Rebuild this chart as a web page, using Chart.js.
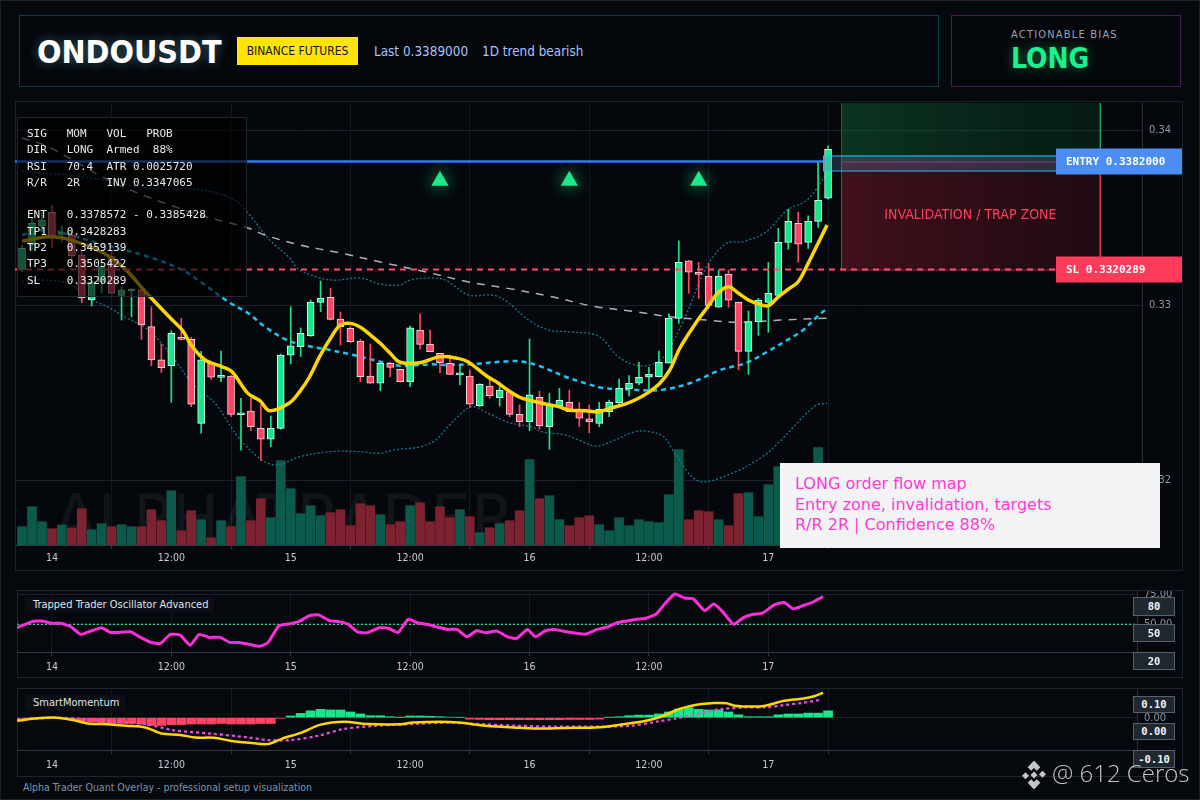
<!DOCTYPE html>
<html>
<head>
<meta charset="utf-8">
<script src="https://cdn.jsdelivr.net/npm/chart.js@4.4.1/dist/chart.umd.min.js"></script>
<style>
  html, body { margin:0; padding:0; background:#05080c; }
  #page { position:relative; width:1200px; height:800px; overflow:hidden; background:#05080c;
          font-family:'DejaVu Sans Condensed','DejaVu Sans',sans-serif; }
  .a { position:absolute; box-sizing:border-box; }
  canvas { position:absolute; display:block; }
  .lvl { position:absolute; box-sizing:border-box; left:1133px; width:42px; background:#1f2731; border:1px solid #56616c;
         color:#f2f4f6; font:bold 10.5px 'DejaVu Sans Mono',monospace; text-align:center; }
  .ptitle { position:absolute; box-sizing:border-box; left:25px; height:16px; background:#0b0f15; color:#dfe4ea;
            font-size:11px; line-height:16px; padding-left:8px; padding-right:6px; }
</style>
</head>
<body>
<div id="page">
  <div class="a" style="left:0;top:0;width:1200px;height:800px;border:1px solid #1a2229;"></div>

  <!-- header -->
  <div class="a" style="left:19px;top:15px;width:920px;height:72px;border:1px solid #0f3a46;background:#04070b;"></div>
  <div class="a" style="left:37px;top:36px;font-size:32px;line-height:32px;font-weight:bold;color:#ffffff;text-shadow:0 0 12px rgba(110,190,230,0.45);">ONDOUSDT</div>
  <div class="a" style="left:237px;top:37px;width:121px;height:28px;background:#ffe500;color:#15150a;font-size:12px;line-height:28px;text-align:center;">BINANCE FUTURES</div>
  <div class="a" style="left:374px;top:44.5px;font-size:13.4px;line-height:13.4px;color:#a8c2ff;white-space:pre;">Last 0.3389000<span style="margin-left:14px">1D trend bearish</span></div>
  <div class="a" style="left:951px;top:15px;width:230px;height:72px;border:1px solid #4c1b52;background:#04070b;"></div>
  <div class="a" style="left:1011px;top:28.7px;font-size:11px;line-height:11px;letter-spacing:1.2px;color:#9aa3ad;">ACTIONABLE BIAS</div>
  <div class="a" style="left:1011px;top:45px;font-size:28px;line-height:28px;font-weight:bold;color:#19f08e;text-shadow:0 0 12px rgba(25,240,142,0.45);">LONG</div>

  <!-- main chart -->
  <div class="a" style="left:15px;top:101px;width:1168px;height:470px;border:1px solid #17212b;background:#04070b;"></div>
  <canvas id="mainChart" width="1167" height="467" style="left:15px;top:103px;width:1167px;height:467px;"></canvas>

  <div class="a" style="left:17px;top:117px;width:230px;height:180px;background:rgba(0,0,0,0.62);border:1px solid #1c2731;">
<pre style="margin:0;padding:8px 0 0 9px;font:11px 'DejaVu Sans Mono',monospace;line-height:16.3px;color:#e8e8e8;">SIG   MOM   VOL   PROB
DIR   LONG  Armed  88%
RSI   70.4  ATR 0.0025720
R/R   2R    INV 0.3347065

ENT   0.3378572 - 0.3385428
TP1   0.3428283
TP2   0.3459139
TP3   0.3505422
SL    0.3320289</pre>
  </div>

  <div class="a" style="left:780px;top:463px;width:380px;height:85px;background:#f3f3f5;color:#ff3ad8;font-family:'DejaVu Sans',sans-serif;font-size:16px;line-height:20.5px;padding:11px 0 0 15px;">
    LONG order flow map<br>Entry zone, invalidation, targets<br>R/R 2R | Confidence 88%
  </div>

  <!-- oscillator -->
  <div class="a" style="left:17px;top:590px;width:1166px;height:88px;border:1px solid #1b2631;"></div>
  <canvas id="oscChart" width="1165" height="86" style="left:17px;top:591px;width:1165px;height:86px;"></canvas>
  <div class="ptitle" style="top:597px;">Trapped Trader Oscillator Advanced</div>
  <div class="lvl" style="top:597px;height:19px;line-height:17px;">80</div>
  <div class="lvl" style="top:624px;height:18px;line-height:16px;">50</div>
  <div class="lvl" style="top:652px;height:18px;line-height:16px;">20</div>

  <!-- momentum -->
  <div class="a" style="left:17px;top:688px;width:1166px;height:89px;border:1px solid #1b2631;"></div>
  <canvas id="momChart" width="1165" height="87" style="left:17px;top:689px;width:1165px;height:87px;"></canvas>
  <div class="ptitle" style="top:695px;">SmartMomentum</div>
  <div class="lvl" style="top:696px;height:17px;line-height:15px;">0.10</div>
  <div class="lvl" style="top:723px;height:17px;line-height:15px;">0.00</div>
  <div class="lvl" style="top:750px;height:18px;line-height:16px;">-0.10</div>

  <div class="a" style="left:23px;top:781px;font-size:10.5px;line-height:12px;color:#7e95a8;">Alpha Trader Quant Overlay - professional setup visualization</div>

  <svg class="a" style="left:1020px;top:761px;" width="28" height="28" viewBox="0 0 28 28">
    <g fill="#c6c6c6" transform="rotate(45 14 14)">
      <rect x="11.5" y="11.5" width="5" height="5"/>
      <rect x="4" y="4" width="5" height="9"/><rect x="4" y="4" width="9" height="5"/>
      <rect x="19" y="15" width="5" height="9"/><rect x="15" y="19" width="9" height="5"/>
      <rect x="17" y="5" width="5" height="5"/><rect x="6" y="18" width="5" height="5"/>
    </g>
  </svg>
  <div class="a" style="left:1052px;top:761px;font-family:'Open Sans',sans-serif;font-weight:300;font-size:24px;line-height:24px;color:#c4c4c4;white-space:pre;">@ 612 Ceros</div>
</div>

<script>
// ---------------- DATA ----------------
// x values are hours counted from day 14, 00:00 (one candle per hour)
const FIRST_HOUR = -3;
const timeTicks  = [0, 12, 24, 36, 48, 60, 72];
const timeLabels = ['14', '12:00', '15', '12:00', '16', '12:00', '17'];
const priceTicks = [0.32, 0.33, 0.34];

const opens = [0.33204,0.33343,0.33451,0.33530,0.33403,0.33400,0.33286,0.33029,0.33133,0.33276,
  0.33055,0.33080,0.33086,0.32876,0.32686,0.32653,0.32815,0.32804,0.32324,0.32667,
  0.32586,0.32594,0.32373,0.32394,0.32295,0.32233,0.32295,0.32713,0.32762,0.32825,
  0.33015,0.33044,0.32920,0.32867,0.32794,0.32594,0.32553,0.32667,0.32633,0.32562,
  0.32857,0.32775,0.32724,0.32667,0.32601,0.32594,0.32425,0.32537,0.32470,0.32505,
  0.32375,0.32333,0.32473,0.32305,0.32425,0.32444,0.32400,0.32349,0.32324,0.32390,
  0.32442,0.32522,0.32553,0.32587,0.32590,0.32667,0.32924,0.33253,0.33187,0.33164,
  0.32987,0.33175,0.33015,0.32735,0.32905,0.33015,0.33055,0.33358,0.33467,0.33358,
  0.33478,0.33610];
const highs = [0.33343,0.33497,0.33531,0.33571,0.33451,0.33429,0.33314,0.33166,0.33257,0.33303,
  0.33105,0.33095,0.33091,0.32990,0.32777,0.32853,0.32924,0.32815,0.32735,0.32670,
  0.32737,0.32596,0.32467,0.32467,0.32429,0.32366,0.32720,0.32990,0.32869,0.33029,
  0.33137,0.33095,0.32960,0.32876,0.32804,0.32777,0.32667,0.32674,0.32634,0.32880,
  0.32949,0.32857,0.32724,0.32714,0.32657,0.32629,0.32550,0.32575,0.32537,0.32510,
  0.32429,0.32806,0.32507,0.32495,0.32524,0.32514,0.32444,0.32429,0.32444,0.32457,
  0.32577,0.32596,0.32673,0.32644,0.32737,0.32949,0.33366,0.33255,0.33244,0.33238,
  0.33200,0.33200,0.33018,0.32966,0.33038,0.33244,0.33438,0.33547,0.33531,0.33509,
  0.33815,0.33909];
const lows = [0.33189,0.33314,0.33417,0.33326,0.33360,0.33246,0.33013,0.32994,0.33069,0.33057,
  0.32914,0.32933,0.32804,0.32653,0.32615,0.32444,0.32800,0.32419,0.32267,0.32575,
  0.32562,0.32362,0.32171,0.32282,0.32110,0.32190,0.32290,0.32663,0.32705,0.32820,
  0.32962,0.32915,0.32771,0.32785,0.32562,0.32553,0.32510,0.32590,0.32560,0.32533,
  0.32747,0.32733,0.32613,0.32604,0.32543,0.32415,0.32420,0.32467,0.32423,0.32362,
  0.32305,0.32282,0.32291,0.32175,0.32420,0.32390,0.32305,0.32270,0.32305,0.32362,
  0.32429,0.32480,0.32543,0.32514,0.32587,0.32667,0.32895,0.33067,0.33038,0.32998,
  0.32987,0.32987,0.32629,0.32604,0.32827,0.32844,0.33055,0.33318,0.33244,0.33324,
  0.33444,0.33605];
const closes = [0.33324,0.33467,0.33486,0.33390,0.33409,0.33280,0.33040,0.33133,0.33219,0.33067,
  0.33086,0.33084,0.32886,0.32686,0.32642,0.32838,0.32804,0.32434,0.32686,0.32587,
  0.32591,0.32375,0.32378,0.32305,0.32233,0.32295,0.32714,0.32766,0.32838,0.33015,
  0.33038,0.32918,0.32876,0.32790,0.32590,0.32553,0.32667,0.32644,0.32562,0.32869,
  0.32775,0.32733,0.32670,0.32604,0.32607,0.32433,0.32547,0.32482,0.32514,0.32375,
  0.32333,0.32486,0.32310,0.32434,0.32455,0.32390,0.32353,0.32333,0.32404,0.32444,
  0.32524,0.32553,0.32587,0.32604,0.32673,0.32924,0.33244,0.33187,0.33175,0.32998,
  0.33164,0.33027,0.32735,0.32905,0.33027,0.33067,0.33358,0.33478,0.33347,0.33478,
  0.33598,0.33890];
const volumes = [183,383,233,163,200,170,363,153,213,183,
  203,183,183,353,243,543,143,343,253,73,
  243,183,683,243,463,273,843,563,313,393,
  293,323,353,193,413,393,303,203,233,393,
  423,233,383,273,353,283,123,173,213,243,
  343,853,463,493,253,193,273,293,203,143,
  273,193,253,233,223,503,953,253,343,333,
  253,193,513,523,283,603,783,550,650,600,
  973,700];

const fastMaHours = [-3,-0.4,1.3,4.6,7.1,9.7,12.1,13.1,14.1,15.4,17.1,18.1,19.7,20.9,21.9,23.9,24.9,25.9,26.9,28.0,
  29.0,30.0,31.0,32.0,33.0,34.0,35.0,37.0,39.0,40.8,41.8,42.8,43.8,44.8,45.8,47.0,48.2,49.6,50.9,51.9,
  53.6,54.9,56.3,57.6,58.6,59.8,61.1,62.1,63.1,64.8,65.8,66.9,68.0,69.0,70.0,71.0,72.0,73.0,74.0,75.0,
  76.0,77.0,77.9];
const fastMaValues = [0.33365,0.33390,0.33381,0.33314,0.33219,0.33057,0.32914,0.32857,0.32762,0.32686,
  0.32647,0.32619,0.32495,0.32453,0.32396,0.32442,0.32505,0.32590,0.32705,0.32810,
  0.32886,0.32895,0.32873,0.32829,0.32781,0.32724,0.32673,0.32670,0.32705,0.32695,
  0.32676,0.32633,0.32590,0.32556,0.32514,0.32473,0.32453,0.32434,0.32419,0.32400,
  0.32396,0.32390,0.32413,0.32434,0.32457,0.32495,0.32553,0.32629,0.32753,0.32905,
  0.32981,0.33067,0.33105,0.33067,0.33029,0.33006,0.32996,0.33047,0.33090,0.33133,
  0.33238,0.33353,0.33457];

const midMaHours = [-3,-0.4,4.6,9.7,13.1,15.1,17.7,19.7,21.4,23.6,25.6,27.6,30.3,32.3,35.0,38.0,39.5,42.5,46.2,47.6,
  49.2,51.6,53.6,55.3,57.6,61.1,64.1,67.2,69.8,72.2,73.9,75.5,76.9,77.9];
const midMaValues = [0.33400,0.33429,0.33354,0.33276,0.33200,0.33126,0.33019,0.32954,0.32876,0.32800,
  0.32767,0.32747,0.32714,0.32686,0.32653,0.32661,0.32657,0.32663,0.32680,0.32673,
  0.32647,0.32590,0.32553,0.32527,0.32518,0.32514,0.32553,0.32629,0.32670,0.32743,
  0.32800,0.32857,0.32933,0.32981];

const slowMaHours = [-3,-0.4,6.3,13.9,19.7,21.4,24.9,29.0,33.0,37.5,41.8,45.8,50.3,54.3,58.6,62.1,65.8,69.2,73.2,77.9];
const slowMaValues = [0.33954,0.33905,0.33697,0.33531,0.33440,0.33400,0.33343,0.33297,0.33246,0.33190,
  0.33133,0.33095,0.33047,0.32994,0.32962,0.32933,0.32914,0.32901,0.32914,0.32924];

const bandUpperHours = [-3,3.0,9.7,15.1,18.4,19.7,21.9,23.9,24.9,28.0,31.0,33.0,35.0,36.0,38.0,39.5,41.9,44.2,45.5,47.9,
  49.9,51.9,54.9,56.9,58.6,60.1,61.5,63.5,65.8,67.8,69.5,71.8,73.9,75.9,77.9];
const bandUpperValues = [0.33766,0.33733,0.33669,0.33657,0.33600,0.33526,0.33371,0.33269,0.33200,0.33143,
  0.33154,0.33120,0.33114,0.33143,0.33154,0.33143,0.33057,0.33057,0.33029,0.32914,
  0.32857,0.32847,0.32823,0.32705,0.32657,0.32657,0.32705,0.32914,0.33219,0.33353,
  0.33362,0.33419,0.33543,0.33600,0.33753];
const bandLowerHours = [-3,-1,1.6,4.0,5.6,7.3,9.7,12.1,14.1,16.4,18.7,21.1,22.7,24.9,28.0,31.0,33.0,34.3,37.0,38.6,
  39.5,40.8,42.2,44.2,46.2,48.2,49.2,51.6,52.9,54.7,56.6,58.6,60.1,61.5,62.6,65.0,68.3,71.4,73.3,75.5,
  76.9,77.9];
const bandLowerValues = [0.33134,0.33143,0.33124,0.33029,0.32990,0.32933,0.32857,0.32705,0.32553,0.32438,
  0.32247,0.32114,0.32086,0.32133,0.32162,0.32162,0.32153,0.32171,0.32190,0.32229,
  0.32286,0.32362,0.32419,0.32371,0.32324,0.32305,0.32276,0.32257,0.32229,0.32194,
  0.32229,0.32276,0.32276,0.32247,0.32153,0.31994,0.32038,0.32133,0.32229,0.32362,
  0.32429,0.32438];

const signalHours  = [39, 52, 65];
const signalPrices = [0.3371, 0.3371, 0.3371];

// trade setup
const entryPrice = 0.3382000;
const entryLow   = 0.3378572;
const entryHigh  = 0.3385428;
const stopPrice  = 0.3320289;
const target1    = 0.3428283;
const entryZoneFromHour = 77.5;
const setupZoneHours    = [79.3, 105.3];

// Trapped Trader Oscillator
const oscHours = [-3.5,-2.0,-1.0,0,0.9,1.9,2.9,4.0,5.0,5.9,7.9,8.8,10.0,10.9,11.9,12.9,13.9,14.8,15.8,16.9,
  17.9,18.8,19.8,20.9,21.7,22.8,23.8,24.8,25.9,26.8,27.9,28.8,29.8,30.7,31.7,32.9,33.8,34.8,35.8,36.7,
  37.7,38.6,39.8,40.7,41.7,42.7,43.6,44.7,45.8,46.7,47.8,48.6,49.6,50.6,51.7,53.6,54.8,55.9,56.8,57.8,
  58.7,59.7,60.7,61.6,62.6,63.6,64.5,65.6,66.5,67.4,68.5,69.5,70.5,71.4,72.6,73.6,74.5,75.5,76.4,77.5];
const oscValues = [47.2,52.2,52.8,50.8,50.8,48.0,41.7,44.7,47.2,43.3,43.8,39.7,35.0,34.2,41.7,41.1,32.8,41.7,39.2,39.2,
  35.0,35.0,33.6,31.9,34.7,48.8,50.3,52.2,57.2,57.8,53.0,52.2,50.0,43.8,43.0,47.2,46.7,43.3,54.2,51.3,
  50.0,48.0,45.8,45.8,39.7,44.7,43.0,44.4,39.7,38.3,45.8,39.7,44.7,45.8,43.8,41.9,45.8,48.0,51.3,52.8,
  54.2,55.0,58.3,66.9,75.0,71.7,70.8,61.3,66.7,60.5,50.0,55.5,58.3,59.2,66.1,68.0,62.8,65.5,68.0,73.0];
const oscTicks = [75, 50];
const oscMidLevel = 50;

// SmartMomentum
const histValues = [-0.002,-0.001,0.001,0.0005,-0.003,
  -0.008,-0.013,-0.015,-0.017,-0.020,-0.020,-0.020,-0.022,-0.027,-0.027,
  -0.024,-0.024,-0.022,-0.022,-0.022,-0.020,-0.022,-0.022,-0.022,-0.020,
  -0.020,-0.002,0.006,0.015,0.024,0.029,0.027,0.027,0.020,0.013,
  0.007,0.007,0.0035,0.001,0.006,0.006,0.005,0.0035,0.002,0.001,
  -0.005,-0.006,-0.007,-0.007,-0.007,-0.007,-0.007,-0.007,-0.007,-0.007,
  -0.006,-0.006,-0.006,-0.005,0.001,0.0035,0.007,0.009,0.009,0.013,
  0.020,0.030,0.035,0.029,0.027,0.027,0.020,0.010,0.0035,0.0035,
  0.0035,0.010,0.013,0.013,0.016,0.016,0.024];
const momHours = [-3.5,-1.4,0.5,2.1,3.6,5.1,7.5,9.4,11.0,12.9,14.4,16.3,17.9,19.8,21.7,23.2,25.1,27.0,29.4,31.7,
  34.8,36.3,39.0,40.9,43.6,46.7,48.7,51.4,55.1,57.4,59.7,61.2,62.8,64.3,66.6,67.8,68.6,70.5,71.7,73.6,
  75.5,76.6,77.5];
const momValues = [-0.0105,-0.002,0,-0.008,-0.020,-0.022,-0.028,-0.034,-0.055,-0.060,
  -0.069,-0.070,-0.080,-0.087,-0.092,-0.072,-0.052,-0.024,-0.014,-0.022,
  -0.023,-0.017,-0.014,-0.017,-0.028,-0.035,-0.038,-0.036,-0.033,-0.023,
  -0.0105,0.0035,0.027,0.042,0.051,0.050,0.042,0.039,0.042,0.059,
  0.067,0.075,0.087];
const momSignalHours = [-3.5,0.5,4.4,6.3,9.4,12.1,15.9,19.8,21.7,24.0,26.7,29.4,32.5,35.6,39.8,42.8,46.7,50.6,55.1,58.2,
  60.8,62.8,65.1,67.3,69.7,71.7,73.6,75.5,77.2];
const momSignalValues = [-0.006,0,-0.008,-0.013,-0.022,-0.043,-0.055,-0.069,-0.078,-0.078,
  -0.063,-0.039,-0.028,-0.023,-0.017,-0.022,-0.028,-0.031,-0.031,-0.028,
  -0.014,-0.002,0.015,0.030,0.036,0.036,0.044,0.052,0.062];
const momTicks = [0];

// ---------------- RENDER ----------------
const FONT = "'DejaVu Sans Condensed','DejaVu Sans',sans-serif";
Chart.defaults.font.family = FONT;
Chart.defaults.animation = false;

const pts = (hs, vs) => hs.map((h, i) => ({ x: h, y: vs[i] }));
const hourOf = i => FIRST_HOUR + i;
const isUp = opens.map((o, i) => closes[i] >= o);
const UP = '#19e68c', DOWN = '#ff4563';
const noPad = s => { s.paddingTop = 0; s.paddingBottom = 0; s.paddingLeft = 0; s.paddingRight = 0; };

function timeAxis(minH, maxH, height, pad) {
  return {
    type: 'linear', min: minH, max: maxH, bounds: 'data', offset: false,
    afterBuildTicks: s => { s.ticks = timeTicks.map(v => ({ value: v })); },
    afterFit: s => { s.height = height; noPad(s); },
    ticks: { autoSkip: false, maxRotation: 0, color: '#c4ccd4', font: { size: 10.5 }, padding: pad,
             callback: (v, i) => timeLabels[i] },
    grid: { color: '#111a23', tickColor: '#2f3943', tickLength: 4 },
    border: { color: '#2e3a46' }
  };
}
function valueAxis(min, max, ticks, width, fmt) {
  return {
    position: 'right', min, max, bounds: 'data',
    afterBuildTicks: s => { s.ticks = ticks.map(v => ({ value: v })); },
    afterFit: s => { s.width = width; noPad(s); },
    ticks: { color: '#8b97a3', font: { size: 11 }, padding: 7, callback: fmt },
    grid: { color: '#18222c', drawTicks: false },
    border: { color: '#27323d' }
  };
}
const baseOpts = {
  responsive: false, animation: false, events: [],
  layout: { padding: 0, autoPadding: false },
  plugins: { legend: { display: false }, tooltip: { enabled: false } }
};

const glowPlugin = {
  id: 'glow',
  beforeDatasetDraw(chart, args) {
    const ds = chart.data.datasets[args.index];
    if (ds.glow) { chart.ctx.save(); chart.ctx.shadowColor = ds.glow; chart.ctx.shadowBlur = 16; }
  },
  afterDatasetDraw(chart, args) {
    if (chart.data.datasets[args.index].glow) chart.ctx.restore();
  }
};

const setupPlugin = {
  id: 'setup',
  beforeDatasetsDraw(chart) {
    const { ctx, chartArea: a } = chart;
    ctx.save();
    ctx.font = "68px " + FONT;
    const txt = 'ALPHATRADER';
    const w = ctx.measureText(txt).width;
    ctx.translate(a.left + 39, a.bottom - 2);
    ctx.scale(461 / w, 1);
    ctx.fillStyle = 'rgba(255,255,255,0.055)';
    ctx.fillText(txt, 0, 0);
    ctx.restore();
  },
  afterDatasetsDraw(chart) {
    const { ctx, chartArea: a, scales: { x, y } } = chart;
    const labelLeft = a.right - 86;
    const zx0 = x.getPixelForValue(setupZoneHours[0]);
    const zx1 = x.getPixelForValue(setupZoneHours[1]);
    const yE = y.getPixelForValue(entryPrice);
    const yS = y.getPixelForValue(stopPrice);
    const yT = Math.max(a.top, y.getPixelForValue(target1));
    ctx.save();
    // target zone
    let g = ctx.createLinearGradient(zx0, 0, zx1, 0);
    g.addColorStop(0, 'rgba(24,120,66,0.40)'); g.addColorStop(1, 'rgba(14,80,45,0.28)');
    ctx.fillStyle = g; ctx.fillRect(zx0, yT, zx1 - zx0, yE - yT);
    ctx.strokeStyle = 'rgba(40,200,110,0.35)'; ctx.lineWidth = 1;
    ctx.beginPath(); ctx.moveTo(zx0 + 0.5, yT); ctx.lineTo(zx0 + 0.5, yE); ctx.stroke();
    ctx.strokeStyle = '#1de98b';
    ctx.beginPath(); ctx.moveTo(zx1 + 0.5, yT); ctx.lineTo(zx1 + 0.5, yE); ctx.stroke();
    // invalidation zone
    g = ctx.createLinearGradient(zx0, 0, zx1, 0);
    g.addColorStop(0, 'rgba(150,30,50,0.42)'); g.addColorStop(1, 'rgba(100,20,38,0.30)');
    ctx.fillStyle = g; ctx.fillRect(zx0, yE, zx1 - zx0, yS - yE);
    ctx.strokeStyle = 'rgba(255,77,109,0.55)';
    ctx.strokeRect(zx0 + 0.5, yE + 0.5, zx1 - zx0, yS - yE);
    ctx.strokeStyle = '#ff4d6d';
    ctx.beginPath(); ctx.moveTo(zx1 + 0.5, yE); ctx.lineTo(zx1 + 0.5, yS); ctx.stroke();
    ctx.fillStyle = '#ff3d5e'; ctx.font = "14px " + FONT;
    ctx.textAlign = 'center'; ctx.textBaseline = 'middle';
    ctx.fillText('INVALIDATION / TRAP ZONE', (zx0 + zx1) / 2, (yE + yS) / 2);
    // stop line
    ctx.strokeStyle = '#ff4d6d'; ctx.lineWidth = 2; ctx.setLineDash([6, 5]);
    ctx.beginPath(); ctx.moveTo(a.left, yS); ctx.lineTo(labelLeft, yS); ctx.stroke();
    ctx.setLineDash([]);
    // entry line + entry zone
    const ex0 = x.getPixelForValue(entryZoneFromHour);
    ctx.strokeStyle = '#2f7bf6'; ctx.lineWidth = 2.5;
    ctx.beginPath(); ctx.moveTo(a.left, yE); ctx.lineTo(ex0, yE); ctx.stroke();
    const yH = y.getPixelForValue(entryHigh), yL = y.getPixelForValue(entryLow);
    ctx.fillStyle = 'rgba(90,130,190,0.28)';
    ctx.fillRect(ex0, yH, labelLeft - ex0, yL - yH + 3);
    ctx.strokeStyle = '#2cc6ea'; ctx.lineWidth = 1;
    ctx.strokeRect(ex0 + 0.5, yH + 0.5, labelLeft - ex0, yL - yH + 3);
    ctx.restore();
  },
  afterDraw(chart) {
    const { ctx, chartArea: a, scales: { y } } = chart;
    const labelLeft = a.right - 86, w = 126;
    const yE = y.getPixelForValue(entryPrice), yS = y.getPixelForValue(stopPrice);
    ctx.save();
    ctx.font = "bold 11px 'DejaVu Sans Mono',monospace";
    ctx.textBaseline = 'middle'; ctx.textAlign = 'left';
    ctx.fillStyle = '#4b8df3'; ctx.fillRect(labelLeft, yE - 13, w, 26);
    ctx.fillStyle = '#ffffff'; ctx.fillText('ENTRY ' + entryPrice.toFixed(7), labelLeft + 10, yE + 0.5);
    ctx.fillStyle = '#ff3b5c'; ctx.fillRect(labelLeft, yS - 13, w, 26);
    ctx.fillStyle = '#ffffff'; ctx.fillText('SL ' + stopPrice.toFixed(7), labelLeft + 10, yS + 0.5);
    ctx.restore();
  }
};

new Chart(document.getElementById('mainChart'), {
  type: 'bar',
  data: {
    datasets: [
      { type: 'line', data: pts(fastMaHours, fastMaValues), borderColor: '#ffd600', borderWidth: 3.5,
        pointRadius: 0, tension: 0.35, order: 0 },
      { type: 'line', data: pts(signalHours, signalPrices), showLine: false, pointStyle: 'triangle',
        pointRadius: 10, pointBackgroundColor: '#1de98b', pointBorderWidth: 0, order: 0, glow: 'rgba(30,235,140,0.8)' },
      { type: 'bar', data: opens.map((o, i) => ({ x: hourOf(i), y: [o, closes[i]] })),
        backgroundColor: isUp.map(u => u ? UP : DOWN), borderColor: isUp.map(u => u ? '#d2ffe9' : '#ffd3da'),
        borderWidth: 1, borderSkipped: false, barThickness: 7, minBarLength: 2, grouped: false, order: 1 },
      { type: 'bar', data: lows.map((l, i) => ({ x: hourOf(i), y: [l, highs[i]] })),
        backgroundColor: isUp.map(u => u ? UP : DOWN), barThickness: 1, grouped: false, order: 2 },
      { type: 'line', data: pts(midMaHours, midMaValues), borderColor: '#1fc6ef', borderWidth: 2.5,
        borderDash: [5, 4], pointRadius: 0, tension: 0.35, order: 3 },
      { type: 'line', data: pts(slowMaHours, slowMaValues), borderColor: 'rgba(215,220,228,0.8)', borderWidth: 1.5,
        borderDash: [8, 7], pointRadius: 0, tension: 0.35, order: 4 },
      { type: 'line', data: pts(bandUpperHours, bandUpperValues), borderColor: '#17798c', borderWidth: 1.3,
        borderDash: [2, 2], pointRadius: 0, tension: 0.35, order: 5 },
      { type: 'line', data: pts(bandLowerHours, bandLowerValues), borderColor: '#17798c', borderWidth: 1.3,
        borderDash: [2, 2], pointRadius: 0, tension: 0.35, order: 5 },
      { type: 'bar', yAxisID: 'yv', data: volumes.map((v, i) => ({ x: hourOf(i), y: v })),
        backgroundColor: isUp.map(u => u ? '#0c5a4b' : '#7c2231'), barThickness: 9, grouped: false, order: 10 }
    ]
  },
  options: Object.assign({}, baseOpts, {
    scales: {
      x: timeAxis(-3.708, 109.55, 25, 3),
      y: valueAxis(0.316286, 0.341543, priceTicks, 40, v => v.toFixed(2)),
      yv: { display: false, min: 0, max: 4420 }
    }
  }),
  plugins: [setupPlugin, glowPlugin]
});

const levelPlugin = {
  id: 'level',
  beforeDatasetsDraw(chart) {
    const { ctx, chartArea: a, scales: { y } } = chart;
    const yy = y.getPixelForValue(oscMidLevel);
    ctx.save();
    ctx.strokeStyle = '#19e68c'; ctx.lineWidth = 1.2; ctx.setLineDash([2, 2]);
    ctx.beginPath(); ctx.moveTo(a.left, yy); ctx.lineTo(a.right, yy); ctx.stroke();
    ctx.restore();
  }
};

new Chart(document.getElementById('oscChart'), {
  type: 'line',
  data: { datasets: [
    { data: pts(oscHours, oscValues), borderColor: '#ff2ed8', borderWidth: 3, pointRadius: 0, tension: 0.15 }
  ] },
  options: Object.assign({}, baseOpts, {
    scales: {
      x: timeAxis(-3.508, 109.05, 25, 4.5),
      y: valueAxis(27.15, 77.5, oscTicks, 45, v => v.toFixed(2))
    }
  }),
  plugins: [levelPlugin]
});

new Chart(document.getElementById('momChart'), {
  type: 'bar',
  data: { datasets: [
    { type: 'line', data: pts(momHours, momValues), borderColor: '#ffd600', borderWidth: 2.5,
      pointRadius: 0, tension: 0.3, order: 0 },
    { type: 'line', data: pts(momSignalHours, momSignalValues), borderColor: '#e84ce8', borderWidth: 2.3,
      borderDash: [3, 3], pointRadius: 0, tension: 0.3, order: 1 },
    { type: 'bar', data: histValues.map((v, i) => ({ x: hourOf(i), y: v })),
      backgroundColor: histValues.map(v => v >= 0 ? '#19e68c' : '#ff4563'),
      barThickness: 9, grouped: false, order: 2 }
  ] },
  options: Object.assign({}, baseOpts, {
    scales: {
      x: timeAxis(-3.508, 109.05, 26, 4.5),
      y: valueAxis(-0.1125, 0.1, momTicks, 45, v => v.toFixed(2))
    }
  })
});
</script>
</body>
</html>
